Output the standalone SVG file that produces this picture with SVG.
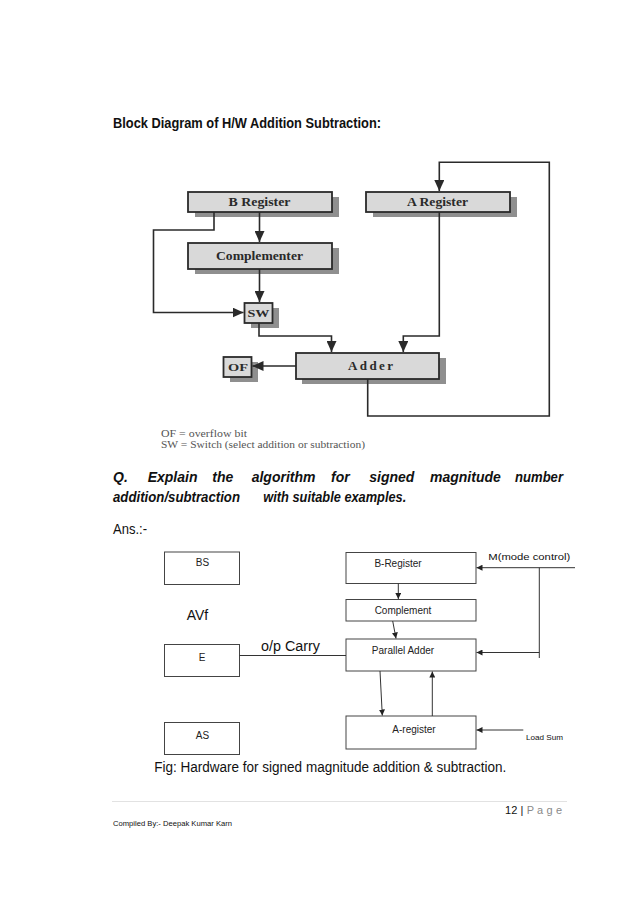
<svg xmlns="http://www.w3.org/2000/svg" width="638" height="903" viewBox="0 0 638 903">
<defs>
<style>
.t{font-family:"Liberation Sans",Arial,sans-serif;fill:#111}
.bi{font-weight:bold;font-style:italic}
.b{font-weight:bold}
.box1{fill:#d9d9d9;stroke:#2a2a2a;stroke-width:1.8}
.sh{fill:#8f8f8f}
.l1{fill:none;stroke:#2a2a2a;stroke-width:1.6}
.tl1{font-family:"Liberation Serif","Times New Roman",serif;font-weight:bold;font-size:12px;fill:#2a2a2a}
.box2{fill:#fff;stroke:#444;stroke-width:1}
.l2{fill:none;stroke:#333;stroke-width:1}
.tl2{font-family:"Liberation Sans",Arial,sans-serif;font-size:10px;fill:#222;text-anchor:middle}
.leg{font-family:"Liberation Serif","Times New Roman",serif;font-size:10px;fill:#555}
</style>
<marker id="a1" markerUnits="userSpaceOnUse" markerWidth="12" markerHeight="10" refX="11" refY="5" orient="auto">
<path d="M0,0 L11,5 L0,10 Z" fill="#2a2a2a"/>
</marker>
<marker id="a2" markerUnits="userSpaceOnUse" markerWidth="7" markerHeight="6" refX="6" refY="3" orient="auto">
<path d="M0,0 L6,3 L0,6 Z" fill="#222"/>
</marker>
</defs>
<rect width="638" height="903" fill="#fff"/>

<text class="t b" x="113" y="128" font-size="14" textLength="268" lengthAdjust="spacingAndGlyphs">Block Diagram of H/W Addition Subtraction:</text>

<!-- Top diagram nodes -->
<g id="b-register">
<rect class="sh" x="195" y="197" width="144" height="20"/>
<rect class="box1" x="188" y="192" width="144" height="20"/>
<text class="tl1" x="228.5" y="206" textLength="62" lengthAdjust="spacingAndGlyphs">B Register</text>
</g>
<g id="a-register">
<rect class="sh" x="373" y="197" width="144" height="20"/>
<rect class="box1" x="366" y="192" width="144" height="20"/>
<text class="tl1" x="407" y="206" textLength="61" lengthAdjust="spacingAndGlyphs">A Register</text>
</g>
<g id="complementer">
<rect class="sh" x="195" y="248" width="144" height="26"/>
<rect class="box1" x="188" y="243" width="144" height="26"/>
<text class="tl1" x="216" y="260" textLength="87" lengthAdjust="spacingAndGlyphs">Complementer</text>
</g>
<g id="sw">
<rect class="sh" x="251" y="308" width="28" height="20"/>
<rect class="box1" x="244.5" y="303" width="28" height="20"/>
<text class="tl1" x="247.5" y="316.5" style="font-size:10.5px" textLength="22" lengthAdjust="spacingAndGlyphs">SW</text>
</g>
<g id="adder">
<rect class="sh" x="302" y="358" width="144" height="26"/>
<rect class="box1" x="296" y="353" width="143" height="26"/>
<text class="tl1" x="348" y="370" style="font-size:13px" textLength="45" lengthAdjust="spacing">Adder</text>
</g>
<g id="of">
<rect class="sh" x="230" y="362" width="28" height="20"/>
<rect class="box1" x="223.5" y="357" width="28" height="20"/>
<text class="tl1" x="228" y="370.5" style="font-size:10.5px" textLength="20" lengthAdjust="spacingAndGlyphs">OF</text>
</g>

<g id="connectors-top">
<path class="l1" d="M259.5,212 V242" marker-end="url(#a1)"/>
<path class="l1" d="M214,212 V230 H153.5 V312.5 H243.5" marker-end="url(#a1)"/>
<path class="l1" d="M259.5,269 V302" marker-end="url(#a1)"/>
<path class="l1" d="M259,323 V336 H331.5 V352" marker-end="url(#a1)"/>
<path class="l1" d="M439.3,212 V336 H403.3 V352" marker-end="url(#a1)"/>
<path class="l1" d="M296,366 H252.5" marker-end="url(#a1)"/>
<path class="l1" d="M367.7,379 V416 H549.3 V162.3 H439.3 V191" marker-end="url(#a1)"/>
</g>

<text class="leg" x="161" y="437" textLength="86" lengthAdjust="spacingAndGlyphs">OF = overflow bit</text>
<text class="leg" x="161" y="447.5" textLength="204" lengthAdjust="spacingAndGlyphs">SW = Switch (select addition or subtraction)</text>

<g class="t bi" font-size="14">
<text x="113" y="482">Q.</text>
<text x="147.7" y="482">Explain</text>
<text x="212.3" y="482">the</text>
<text x="251.7" y="482">algorithm</text>
<text x="331" y="482">for</text>
<text x="369.3" y="482">signed</text>
<text x="430" y="482">magnitude</text>
<text x="515" y="482" textLength="48" lengthAdjust="spacingAndGlyphs">number</text>
<text x="113" y="502" textLength="127" lengthAdjust="spacingAndGlyphs">addition/subtraction</text>
<text x="263.3" y="502" textLength="143" lengthAdjust="spacingAndGlyphs">with suitable examples.</text>
</g>
<text class="t" x="113" y="534" font-size="14" textLength="34" lengthAdjust="spacingAndGlyphs">Ans.:-</text>

<!-- Lower diagram nodes -->
<g id="bs">
<rect class="box2" x="164.5" y="552" width="75" height="32.5"/>
<text class="tl2" x="202.5" y="566">BS</text>
</g>
<g id="e">
<rect class="box2" x="164.5" y="644.5" width="75" height="32"/>
<text class="tl2" x="202" y="661">E</text>
</g>
<g id="as">
<rect class="box2" x="164.5" y="722.5" width="75" height="32"/>
<text class="tl2" x="202.5" y="739">AS</text>
</g>
<g id="b-reg2">
<rect class="box2" x="346" y="552.5" width="130" height="31"/>
<text class="tl2" x="398" y="567">B-Register</text>
</g>
<g id="complement">
<rect class="box2" x="346" y="599.5" width="130" height="21.5"/>
<text class="tl2" x="403" y="613.5">Complement</text>
</g>
<g id="parallel-adder">
<rect class="box2" x="346" y="639" width="130" height="32"/>
<text class="tl2" x="403" y="653.5">Parallel Adder</text>
</g>
<g id="a-reg2">
<rect class="box2" x="346" y="716" width="130" height="33"/>
<text class="tl2" x="414" y="732.5">A-register</text>
</g>

<text class="t" x="186.7" y="620" font-size="14" fill="#222">AVf</text>
<text class="t" x="261" y="651" font-size="14" fill="#222" textLength="59" lengthAdjust="spacingAndGlyphs">o/p Carry</text>
<text class="t" x="488.3" y="559.5" font-size="8.5" fill="#333" textLength="82" lengthAdjust="spacingAndGlyphs">M(mode control)</text>
<text class="t" x="526" y="740" font-size="8" fill="#333" textLength="37" lengthAdjust="spacingAndGlyphs">Load Sum</text>

<g id="connectors-bottom">
<path class="l2" d="M398.3,583.5 V599" marker-end="url(#a2)"/>
<path class="l2" d="M392.7,621 L396,638.5" marker-end="url(#a2)"/>
<path class="l2" d="M575,567.7 H476.5" marker-end="url(#a2)"/>
<path class="l2" d="M539.3,567.7 V658"/>
<path class="l2" d="M539.3,652.5 H476.5" marker-end="url(#a2)"/>
<path class="l2" d="M239.5,655.5 H346"/>
<path class="l2" d="M380,671 L382.3,715.5" marker-end="url(#a2)"/>
<path class="l2" d="M432.3,716 V671.5" marker-end="url(#a2)"/>
<path class="l2" d="M523.3,730 H476.5" marker-end="url(#a2)"/>
</g>

<text class="t" x="154.3" y="772" font-size="14" fill="#222" textLength="352" lengthAdjust="spacingAndGlyphs">Fig: Hardware for signed magnitude addition &amp; subtraction.</text>

<line x1="112" y1="801.5" x2="567" y2="801.5" stroke="#e2e2e2" stroke-width="1"/>
<text class="t" x="505" y="813.5" font-size="11" fill="#222" textLength="57" lengthAdjust="spacing">12 | <tspan fill="#8a8a8a">P a g e</tspan></text>
<text class="t" x="113" y="826" font-size="7" fill="#333" textLength="119" lengthAdjust="spacingAndGlyphs">Compiled By:- Deepak Kumar Karn</text>
</svg>
